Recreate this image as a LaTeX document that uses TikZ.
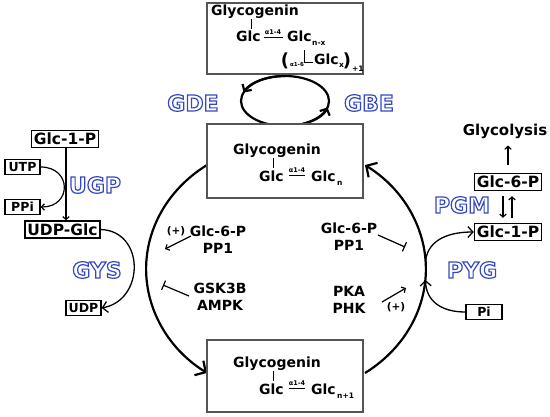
\documentclass[tikz,border=0pt]{standalone}
\usepackage{fontspec}
\setmainfont{DejaVu Sans}
\usetikzlibrary{arrows.meta}
\definecolor{lblue}{RGB}{52,72,195}
\definecolor{boxgray}{RGB}{85,85,85}
\newcommand\enzname[1]{\textcolor{lblue}{\special{pdf:literal direct 1 Tr 1.2 w}#1\special{pdf:literal direct 0 Tr}}}
\tikzset{
  bigtip/.tip={Straight Barb[length=8pt,width=17pt]},
  medtip/.tip={Straight Barb[length=5pt,width=11pt]},
  smtip/.tip={Straight Barb[length=3pt,width=6.5pt]},
}
\begin{document}
\begin{tikzpicture}[x=1pt,y=-1pt,font=\bfseries,
  bigbox/.style={draw=boxgray,fill=white,line width=1.3pt,minimum width=156pt,inner sep=0pt},
  lbl/.style={draw,fill=white,line width=1.3pt,inner sep=2.5pt,font=\bfseries\fontsize{15.5}{15.5}\selectfont},
  sbox/.style={draw,fill=white,line width=1.3pt,minimum width=35pt,minimum height=15pt,inner sep=1pt,font=\bfseries\fontsize{12.5}{12.5}\selectfont},
  enzl/.style={font=\bfseries\fontsize{22}{22}\selectfont,inner sep=0pt},
  gtxt/.style={font=\bfseries\fontsize{14}{14}\selectfont,inner sep=0pt,anchor=base west},
  subs/.style={font=\bfseries\fontsize{7.5}{8}\selectfont,inner sep=0pt,anchor=base west},
  alab/.style={font=\bfseries\fontsize{6.5}{7}\selectfont,inner sep=0pt,anchor=base},
  paren/.style={font=\bfseries\fontsize{18}{18}\selectfont,inner sep=0pt},
  reg/.style={font=\bfseries\fontsize{14}{17}\selectfont,align=center,inner sep=0pt},
  plus/.style={font=\bfseries\fontsize{10.5}{10.5}\selectfont,inner sep=0pt},
  ring/.style={line width=2.2pt},
  conn/.style={line width=1.3pt},
  thin/.style={line width=1.2pt},
  bond/.style={line width=1pt},
]
\useasboundingbox (0,0) rectangle (550,416);

% rings
\draw[ring] (285,101) ellipse [x radius=44,y radius=25];
\draw[ring,-{medtip}] (285,76) arc[start angle=270,end angle=200,x radius=44,y radius=25];
\draw[ring,-{medtip}] (285,126) arc[start angle=90,end angle=15,x radius=44,y radius=25];
\draw[ring,-{bigtip}] (207,165) arc[start angle=235.6,end angle=124.4,x radius=140,y radius=126];
\draw[ring,-{bigtip}] (365,373) arc[start angle=55.6,end angle=-55.6,x radius=140,y radius=126];

% boxes
\node[bigbox,minimum height=71pt] (top) at (285,38.5) {};
\node[bigbox,minimum height=74pt] (mid) at (285,161) {};
\node[bigbox,minimum height=72pt] (bot) at (285,376) {};

% top box content
\node[gtxt] (tg) at (211,15) {Glycogenin};
\draw[bond] (251,19) -- (251,29);
\node[gtxt] (tglc) at (236,41) {Glc};
\node[alab] (ta14) at (273,34) {α1-4};
\draw[line width=0.6pt] (264,37) -- (283,37);
\node[gtxt] (tglc2) at (287,41) {Glc};
\node[subs] (tnx) at (312,45) {n-x};
\node[paren] (tpl) at (285,61) {(};
\node[alab,font=\bfseries\fontsize{5.5}{6}\selectfont] (ta16) at (297,66) {α1-6};
\draw[bond] (304,50) -- (304,62) -- (313,62);
\node[gtxt] (tglc3) at (314,64) {Glc};
\node[subs] (tx) at (339,67) {x};
\node[paren] (tpr) at (347,61) {)};
\node[subs] (tp1) at (352,71) {+1};

% middle box content
\node[gtxt] (mg) at (233,154) {Glycogenin};
\draw[bond] (273,158) -- (273,168);
\node[gtxt] (mglc) at (259,181) {Glc};
\node[alab] (ma14) at (297,172) {α1-4};
\draw[line width=0.6pt] (289,175) -- (305,175);
\node[gtxt] (mglc2) at (311,181) {Glc};
\node[subs] (mn) at (337,185) {n};

% bottom box content
\node[gtxt] (bg) at (233,367) {Glycogenin};
\draw[bond] (273,371) -- (273,381);
\node[gtxt] (bglc) at (259,394) {Glc};
\node[alab] (ba14) at (297,385) {α1-4};
\draw[line width=0.6pt] (289,388) -- (305,388);
\node[gtxt] (bglc2) at (311,394) {Glc};
\node[subs] (bn) at (337,398) {n+1};

% enzyme labels
\node[enzl] (gde) at (193,103) {\enzname{GDE}};
\node[enzl] (gbe) at (369,103) {\enzname{GBE}};
\node[enzl] (ugp) at (95,185) {\enzname{UGP}};
\node[enzl] (gys) at (97,270) {\enzname{GYS}};
\node[enzl] (pgm) at (462,205) {\enzname{PGM}};
\node[enzl] (pyg) at (472,270) {\enzname{PYG}};

% left side
\node[lbl] (g1pl) at (65,139) {Glc-1-P};
\node[sbox] (utp) at (22.5,167) {UTP};
\node[sbox] (ppi) at (22.5,207) {PPi};
\node[lbl] (udpg) at (62.5,229.5) {UDP-Glc};
\node[sbox] (udp) at (83.5,308) {UDP};
\draw[thin,-{smtip}] (g1pl.south -| 66,0) -- (udpg.north -| 66,0);
\draw[thin,-{smtip}] (utp.east) .. controls (72,167) and (72,207) .. (ppi.east);
\draw[conn,-{medtip}] (udpg.east) .. controls (145,231) and (145,300) .. (udp.east);

% right side
\node[font=\bfseries\fontsize{15}{15}\selectfont,inner sep=0pt] (glyc) at (505,131) {Glycolysis};
\node[lbl] (g6pr) at (508,182) {Glc-6-P};
\node[lbl] (g1pr) at (508,232) {Glc-1-P};
\node[sbox,minimum width=36pt] (pi) at (484,312) {Pi};
\draw[thin,-{smtip},shorten <=8pt,shorten >=7pt] (g6pr.north) -- (glyc.south -| g6pr.north);
\draw[thin,-{smtip},shorten <=5pt,shorten >=5pt] (g6pr.south -| 503,0) -- (g1pr.north -| 503,0);
\draw[thin,-{smtip},shorten <=5pt,shorten >=5pt] (g1pr.north -| 512,0) -- (g6pr.south -| 512,0);
\coordinate (pj) at (425.5,280);
\coordinate (pk) at (425.5,262);
\draw[conn,-{medtip}] (pi.west) .. controls (440,312) and (426,300) .. (pj);
\draw[conn,-{medtip}] (pk) .. controls (427,242) and (445,232) .. (g1pr.west);

% regulators
\node[reg] (lreg) at (218,240) {Glc-6-P\\PP1};
\node[reg] (rreg) at (349,237) {Glc-6-P\\PP1};
\node[reg] (gsk) at (220,297) {GSK3B\\AMPK};
\node[reg] (pka) at (349,300) {PKA\\PHK};
\node[plus] (lplus) at (176,231) {(+)};
\node[plus] (rplus) at (396,307) {(+)};
\coordinate (la1) at (191,236);
\coordinate (la2) at (165,249);
\coordinate (ri1) at (378,235);
\coordinate (ri2) at (405,247);
\coordinate (li1) at (189,296);
\coordinate (li2) at (163,285);
\coordinate (ra1) at (382,302);
\coordinate (ra2) at (406,288);
\draw[thin,-{smtip}] (la1) -- (la2);
\draw[thin,-{Bar[width=10pt]}] (ri1) -- (ri2);
\draw[thin,-{Bar[width=10pt]}] (li1) -- (li2);
\draw[thin,-{smtip}] (ra1) -- (ra2);
\end{tikzpicture}
\end{document}
